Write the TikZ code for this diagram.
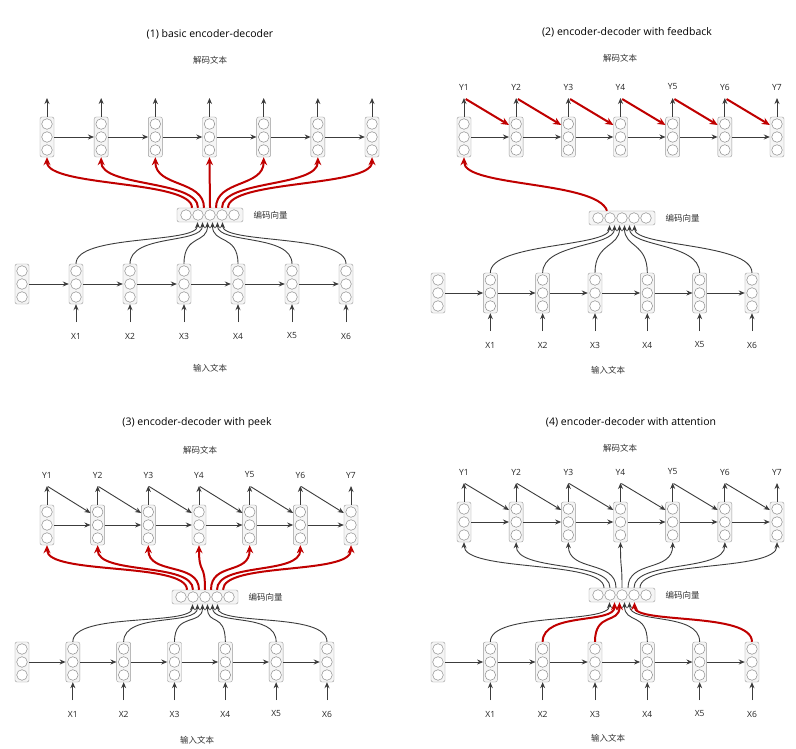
\documentclass[tikz,border=0pt]{standalone}
\usepackage{fontspec}
\setmainfont{Open Sans}
\newfontfamily\cjk{Noto Sans CJK SC}
\usetikzlibrary{calc,arrows.meta}
\definecolor{ared}{RGB}{192,0,0}
\definecolor{agray}{RGB}{60,60,60}
\tikzset{
 cell/.style={draw=gray!80,rounded corners=2pt,minimum width=14pt,minimum height=40pt,inner sep=0pt,fill=gray!8},
 vec/.style={draw=gray!80,rounded corners=2pt,minimum width=66pt,minimum height=14pt,inner sep=0pt,fill=gray!8},
 circ/.style={draw=gray!90,fill=white,line width=0.5pt},
 ga/.style={draw=agray,line width=0.9pt,-{Stealth[length=6pt,width=5pt]}},
 ra/.style={draw=ared,line width=2pt,-{Stealth[length=8pt,width=7pt]}},
 lab/.style={font=\fontsize{8.5}{10}\selectfont,text=black!85},
 ttl/.style={font=\fontsize{10.5}{12}\selectfont},
 cj/.style={font=\cjk\fontsize{8.5}{10}\selectfont,text=black!80},
}
\newcommand\mycell[3]{\node[cell] (#1) at (#2,#3) {};
 \foreach \k in {-13,0,13} \draw[circ] ($(#1.center)+(0,\k)$) circle (5.3);}
\newcommand\drawbase[1]{%
 \foreach \i in {1,...,7}{\pgfmathsetmacro\xx{\DX+(\i-1)*\DS}\mycell{\P d\i}{\xx}{\DY}
   \coordinate (\P t\i) at (\xx,\DY-39);
   \draw[ga] (\P d\i.north) -- (\P t\i);
   \ifnum#1=1\else\node[lab] (\P y\i) at (\xx,\DY-50) {Y\i};\fi}
 \foreach \i [remember=\i as \j (initially 1)] in {2,...,7}{\draw[ga] (\P d\j.east) -- (\P d\i.west);}
 \foreach \i in {0,...,6}{\pgfmathsetmacro\xx{\EX+\i*\ES}\mycell{\P e\i}{\xx}{\EY}}
 \foreach \i [remember=\i as \j (initially 0)] in {1,...,6}{\draw[ga] (\P e\j.east) -- (\P e\i.west);
   \pgfmathsetmacro\xx{\EX+\i*\ES}
   \coordinate (\P s\i) at (\xx,\EY+38);
   \draw[ga] (\P s\i) -- (\P e\i.south);
   \node[lab] (\P x\i) at (\xx,\EY+52) {X\i};}
 \node[vec] (\P v) at (\VX,\VY) {};
 \foreach \k in {-24,-12,0,12,24} \draw[circ] ($(\P v.center)+(\k,0)$) circle (5.3);
 \node[cj,anchor=west] (\P vl) at (\VX+40,\VY) {编码向量};
}
\newcommand\enclinks[1]{%
 \foreach \i in {1,...,6}{\gdef\st{ga}\foreach \r in {#1}{\ifnum\r=\i\gdef\st{ra}\fi}
   \pgfmathsetmacro\off{(\i-3.5)*5}
   \draw[\st] (\P e\i.north) .. controls +(0,-30) and +(0,22) .. ($(\P v.south)+(\off,0)$);}}
\newcommand\declinks[1]{%
 \foreach \i in {1,...,7}{\pgfmathsetmacro\off{(\i-4)*6}
   \draw[#1] ($(\P v.north)+(\off,0)$) .. controls +(0,-28) and +(0,30) .. (\P d\i.south);}}
\begin{document}
\begin{tikzpicture}[x=1pt,y=-1pt]
\useasboundingbox[fill=white] (0,0) rectangle (796,749);
% ---- panel 1
\def\P{a}\def\DX{47}\def\DS{54.17}\def\DY{137}\def\VX{210}\def\VY{215}\def\EX{22}\def\ES{54}\def\EY{284}
\node[ttl] (at) at (210,34) {(1) basic encoder-decoder};
\node[cj] (ad) at (210,60) {解码文本};
\node[cj] (ai) at (210,368) {输入文本};
\drawbase{1}\enclinks{0}\declinks{ra}
% ---- panel 2
\def\P{b}\def\DX{464}\def\DS{52.17}\def\DY{137}\def\VX{622}\def\VY{218}\def\EX{438}\def\ES{52.33}\def\EY{293}
\node[ttl] (bt) at (627,32) {(2) encoder-decoder with feedback};
\node[cj] (bd) at (620,58) {解码文本};
\node[cj] (bi) at (608,370) {输入文本};
\drawbase{2}\enclinks{0}
\draw[ra] ($(bv.north)+(-15,0)$) .. controls +(-10,-30) and +(0,30) .. (bd1.south);
\foreach \i [remember=\i as \j (initially 1)] in {2,...,7}{\draw[ra,shorten <=2pt] (bt\j) -- ($(bd\i.west)+(0,-12)$);}
% ---- panel 3
\def\P{c}\def\DX{47}\def\DS{50.67}\def\DY{525}\def\VX{205}\def\VY{597}\def\EX{22}\def\ES{50.83}\def\EY{662}
\node[ttl] (ct) at (197,423) {(3) encoder-decoder with peek};
\node[cj] (cd) at (200,450) {解码文本};
\node[cj] (ci) at (197,740) {输入文本};
\drawbase{3}\enclinks{0}\declinks{ra}
\foreach \i [remember=\i as \j (initially 1)] in {2,...,7}{\draw[ga,shorten <=1pt] (ct\j) -- ($(cd\i.west)+(0,-12)$);}
% ---- panel 4
\def\P{d}\def\DX{464}\def\DS{52.17}\def\DY{522}\def\VX{622}\def\VY{595}\def\EX{438}\def\ES{52.33}\def\EY{662}
\node[ttl] (dt) at (631,422) {(4) encoder-decoder with attention};
\node[cj] (dd) at (620,448) {解码文本};
\node[cj] (di) at (608,738) {输入文本};
\drawbase{4}\enclinks{2,3,6}\declinks{ga}
\foreach \i [remember=\i as \j (initially 1)] in {2,...,7}{\draw[ga,shorten <=1pt] (dt\j) -- ($(dd\i.west)+(0,-12)$);}
\end{tikzpicture}
\end{document}
